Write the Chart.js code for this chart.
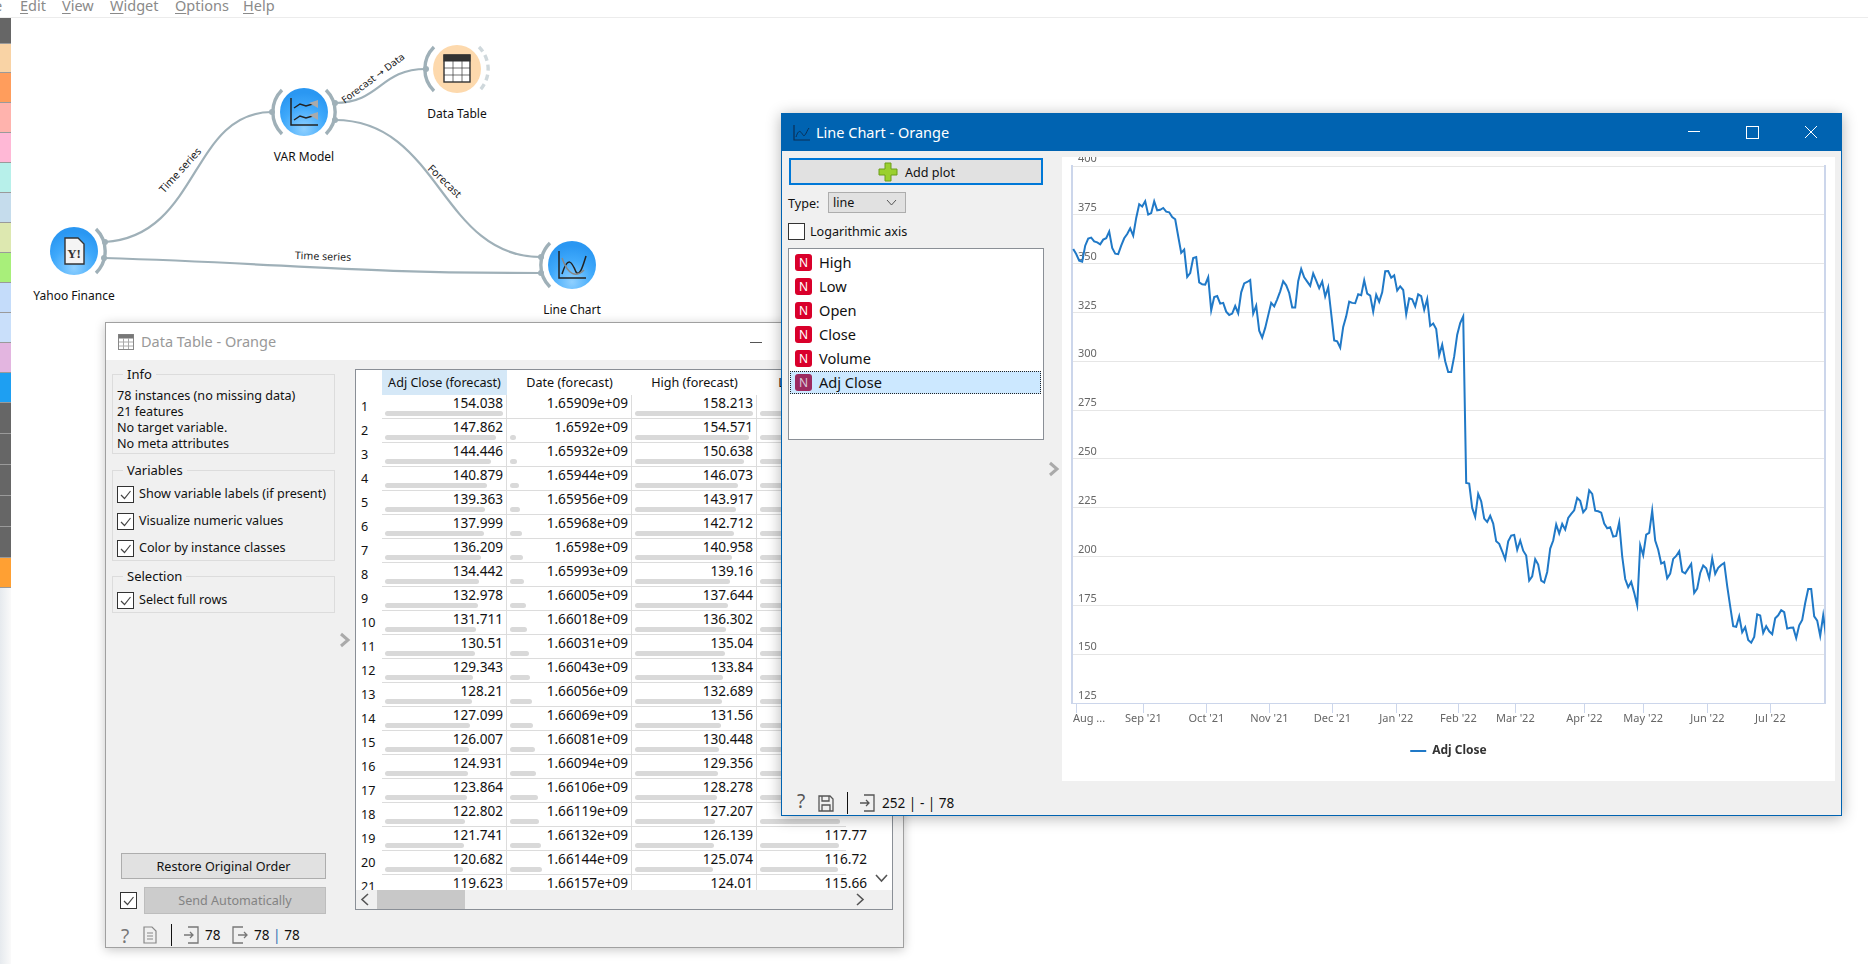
<!DOCTYPE html>
<html>
<head>
<meta charset="utf-8">
<title>Line Chart - Orange</title>
<script src="https://cdn.jsdelivr.net/npm/chart.js@4"></script>
<style>
  html, body { margin: 0; padding: 0; background: #fff; }
  body { width: 1868px; height: 964px; position: relative; overflow: hidden; font-family: "Noto Sans", sans-serif; color: #111; }
  .a { position: absolute; white-space: nowrap; }
  .win { position: absolute; background: #f0f0f0; box-sizing: border-box; }
  .group { position: absolute; border: 1px solid #dcdcdc; box-sizing: border-box; }
  .group > span { position: absolute; left: 10px; top: -10px; background: #f0f0f0; padding: 0 4px; font-size: 13px; }
  .info { font-size: 12.6px; line-height: 16px; }
  .check { position: absolute; width: 15px; height: 15px; border: 1px solid #333; background: #fff; box-sizing: content-box; }
  .check svg { position: absolute; left: 1px; top: 1px; }
  .menu { font-size: 14.5px; color: #8a8a8a; top: -5px; }
  .menu u { text-underline-offset: 2px; }
  .node { font-size: 12px; transform: translateX(-50%); }
  .edge { font-size: 10.6px; transform: translate(-50%, -50%); color: #222; }
  .cell { position: absolute; font-size: 13.6px; text-align: right; box-sizing: border-box; padding-right: 4px; height: 24px; line-height: 18px; }
  .bar { position: absolute; height: 5px; background: #d9d9d9; border-radius: 3px; }
  .head { position: absolute; top: 0; height: 26px; line-height: 26px; font-size: 12.6px; text-align: center; }
  .badge { position: absolute; left: 795px; width: 17px; height: 17px; border-radius: 3px; background: #d9002b; color: #fff; font-size: 12px; line-height: 17px; text-align: center; }
  .item { position: absolute; left: 819px; font-size: 14.6px; line-height: 20px; }
  .btn { position: absolute; box-sizing: border-box; background: #e1e1e1; border: 1px solid #adadad; text-align: center; font-size: 12.6px; }
</style>
</head>
<body>

<!-- menu and widget strip -->
<div class="a menu" style="left:-6px">e</div>
<div class="a menu" style="left:20px"><u>E</u>dit</div>
<div class="a menu" style="left:62px"><u>V</u>iew</div>
<div class="a menu" style="left:110px"><u>W</u>idget</div>
<div class="a menu" style="left:175px"><u>O</u>ptions</div>
<div class="a menu" style="left:243px"><u>H</u>elp</div>
<div class="a" style="left:0;top:17px;width:1868px;height:1px;background:#ececec"></div>
<div id="strip"></div>

<!-- workflow -->
<svg class="a" style="left:0;top:0" width="660" height="330" id="flow">
  <defs>
    <radialGradient id="blue" cx="50%" cy="85%" r="75%"><stop offset="0" stop-color="#8fd0ff"/><stop offset="0.6" stop-color="#3fa9fb"/><stop offset="1" stop-color="#2a97f2"/></radialGradient>
  </defs>
  <g fill="none" stroke="#9fb0b8" stroke-width="2.2">
    <path d="M105 242 C200 236 190 112 272 112"/>
    <path d="M335 103 C380 103 380 69 426 69"/>
    <path d="M335 120 C440 120 440 257 541 257"/>
    <path d="M104 258 C300 264 340 273 541 273"/>
  </g>
  <g fill="#9fb0b8">
    <circle cx="105" cy="242" r="3"/><circle cx="104" cy="258" r="3"/>
    <circle cx="272" cy="112" r="3"/><circle cx="335" cy="103" r="3"/><circle cx="335" cy="120" r="3"/>
    <circle cx="426" cy="69" r="3"/><circle cx="541" cy="257" r="3"/><circle cx="541" cy="273" r="3"/>
  </g>
  <g fill="none" stroke="#9fb0b8" stroke-width="3.4">
    <path d="M96 229 A31 31 0 0 1 96 273"/>
    <path d="M282 90 A31 31 0 0 0 282 134"/>
    <path d="M326 90 A31 31 0 0 1 326 134"/>
    <path d="M434 47 A31 31 0 0 0 434 91"/>
    <path d="M550 243 A31 31 0 0 0 550 287"/>
    <path d="M479 47 A31 31 0 0 1 479 91" stroke="#cfd8dc" stroke-dasharray="6 4"/>
  </g>
  <circle cx="74" cy="251" r="24" fill="url(#blue)"/>
  <circle cx="304" cy="112" r="24" fill="url(#blue)"/>
  <circle cx="457" cy="69" r="24" fill="#fdd9ad"/>
  <circle cx="572" cy="265" r="24" fill="url(#blue)"/>
  <!-- node icons -->
  <path d="M65 238 H78 L84 244 V264 H65 Z" fill="#f4f4f4" stroke="#333" stroke-width="1.4"/>
  <text x="74" y="258" font-family="Liberation Serif" font-weight="bold" font-size="13" text-anchor="middle" fill="#333">Y!</text>
  <g fill="none" stroke="#222" stroke-width="1.5">
    <path d="M291 98 V125 H318"/><path d="M294 108 L300 104 L306 106 L316 103"/><path d="M294 120 L300 116 L306 118 L316 115"/>
    <path d="M559 251 V278 H586"/><path d="M562 274 C568 255 572 262 576 272 C580 278 584 262 586 256"/><path d="M562 258 C568 275 576 278 584 270" stroke="#888"/>
  </g>
  <path d="M309 103 L318 100 V108 Z M309 115 L318 112 V120 Z" fill="#aaa"/>
  <g stroke="#333" fill="none">
    <rect x="444" y="55" width="26" height="27" fill="#fff" stroke-width="1.4"/>
    <rect x="444" y="55" width="26" height="6" fill="#333"/>
    <path d="M453 61 V82 M462 61 V82 M444 68 H470 M444 75 H470" stroke-width="0.7"/>
  </g>
</svg>
<div class="a node" style="left:74px;top:287px">Yahoo Finance</div>
<div class="a node" style="left:304px;top:148px">VAR Model</div>
<div class="a node" style="left:457px;top:105px">Data Table</div>
<div class="a node" style="left:572px;top:301px">Line Chart</div>
<div class="a edge" style="left:180px;top:170px;transform:translate(-50%,-50%) rotate(-48deg)">Time series</div>
<div class="a edge" style="left:373px;top:78px;transform:translate(-50%,-50%) rotate(-37deg);font-family:'DejaVu Sans';font-size:9.4px">Forecast → Data</div>
<div class="a edge" style="left:445px;top:181px;transform:translate(-50%,-50%) rotate(44deg)">Forecast</div>
<div class="a edge" style="left:323px;top:256px;transform:translate(-50%,-50%) rotate(2deg)">Time series</div>

<!-- Data Table window -->
<div class="win" style="left:105px;top:322px;width:799px;height:626px;border:1px solid #a0a0a0;box-shadow:0 2px 10px rgba(0,0,0,.22)"></div>
<div class="a" style="left:106px;top:323px;width:797px;height:37px;background:#fff"></div>
<svg class="a" style="left:118px;top:334px" width="16" height="16"><rect x=".5" y=".5" width="15" height="15" fill="#fff" stroke="#888"/><rect x=".5" y=".5" width="15" height="4" fill="#777"/><path d="M5.5 4V15M10.5 4V15M1 8H15M1 12H15" stroke="#aaa"/></svg>
<div class="a" style="left:141px;top:331px;font-size:14.5px;color:#999">Data Table - Orange</div>
<div class="a" style="left:750px;top:342px;width:12px;height:1px;background:#555"></div>

<div class="group" style="left:112px;top:374px;width:223px;height:80px"><span>Info</span></div>
<div class="a info" style="left:117px;top:388px">78 instances (no missing data)<br>21 features<br>No target variable.<br>No meta attributes</div>
<div class="group" style="left:112px;top:470px;width:223px;height:91px"><span>Variables</span></div>
<div class="group" style="left:112px;top:576px;width:223px;height:37px"><span>Selection</span></div>
<div id="checks"></div>
<div class="a info" style="left:139px;top:486px">Show variable labels (if present)</div>
<div class="a info" style="left:139px;top:513px">Visualize numeric values</div>
<div class="a info" style="left:139px;top:540px">Color by instance classes</div>
<div class="a info" style="left:139px;top:592px">Select full rows</div>
<svg class="a" style="left:338px;top:632px" width="14" height="16"><path d="M3 2 L10 8 L3 14" fill="none" stroke="#aaa" stroke-width="3"/></svg>

<div class="btn" style="left:121px;top:853px;width:205px;height:26px;line-height:25px">Restore Original Order</div>
<div class="btn" style="left:144px;top:887px;width:182px;height:27px;line-height:26px;background:#cccccc;color:#838383;border-color:#bdbdbd">Send Automatically</div>
<div class="a" style="left:125px;top:923px;font-size:19px;color:#777;transform:translateX(-50%)">?</div>
<svg class="a" style="left:143px;top:926px" width="14" height="18"><path d="M1 1H9L13 5V17H1Z M4 7H10M4 10H10M4 13H10" fill="none" stroke="#888" stroke-width="1.2"/></svg>
<div class="a" style="left:171px;top:924px;width:1px;height:22px;background:#111"></div>
<svg class="a" style="left:183px;top:926px" width="16" height="18"><path d="M1 9H10M7 6L10 9L7 12M5 1H15V17H5" fill="none" stroke="#777" stroke-width="1.3"/></svg>
<div class="a" style="left:205px;top:925px;font-size:13.6px">78</div>
<svg class="a" style="left:232px;top:926px" width="16" height="18"><path d="M6 9H15M12 6L15 9L12 12M11 1H1V17H11" fill="none" stroke="#777" stroke-width="1.3"/></svg>
<div class="a" style="left:254px;top:925px;font-size:13.6px">78 <span style="color:#2a6fb0">|</span> 78</div>

<!-- table -->
<div class="a" style="left:355px;top:369px;width:538px;height:541px;background:#fff;border:1px solid #8a8f96;box-sizing:border-box"></div>
<div id="table" class="a" style="left:356px;top:370px;width:515px;height:520px;overflow:hidden"></div>
<div class="a" style="left:356px;top:890px;width:536px;height:19px;background:#f0f0f0"></div>
<div class="a" style="left:377px;top:890px;width:88px;height:19px;background:#c8c8c8"></div>
<svg class="a" style="left:360px;top:893px" width="10" height="13"><path d="M8 1L2 6.5L8 12" fill="none" stroke="#555" stroke-width="1.6"/></svg>
<svg class="a" style="left:855px;top:893px" width="10" height="13"><path d="M2 1L8 6.5L2 12" fill="none" stroke="#555" stroke-width="1.6"/></svg>
<svg class="a" style="left:875px;top:873px" width="13" height="10"><path d="M1 2L6.5 8L12 2" fill="none" stroke="#555" stroke-width="1.6"/></svg>

<!-- Line Chart window -->
<div class="win" style="left:781px;top:113px;width:1061px;height:703px;border:1px solid #0063b1;box-shadow:0 2px 14px rgba(0,0,0,.3)"></div>
<div class="a" style="left:781px;top:113px;width:1061px;height:38px;background:#0063b1"></div>
<svg class="a" style="left:793px;top:124px" width="18" height="18"><path d="M1 1V16H17" fill="none" stroke="#0b2f55" stroke-width="1.2"/><path d="M3 13C6 4 8 8 10 11C12 14 14 6 16 4" fill="none" stroke="#0b2f55"/></svg>
<div class="a" style="left:816px;top:122px;font-size:14.5px;color:#fff">Line Chart - Orange</div>
<div class="a" style="left:1688px;top:131px;width:12px;height:1px;background:#fff"></div>
<div class="a" style="left:1746px;top:126px;width:11px;height:11px;border:1px solid #fff"></div>
<svg class="a" style="left:1804px;top:125px" width="14" height="14"><path d="M1 1L13 13M13 1L1 13" stroke="#fff" stroke-width="1"/></svg>

<div class="btn" style="left:789px;top:158px;width:254px;height:27px;line-height:25px;border:2px solid #0078d7">
  <svg style="position:absolute;left:87px;top:2px" width="20" height="20"><path d="M7 1H13V7H19V13H13V19H7V13H1V7H7Z" fill="#9ad02f" stroke="#6d9e1b"/></svg>
  <span style="margin-left:28px">Add plot</span>
</div>
<div class="a info" style="left:788px;top:196px">Type:</div>
<div class="btn" style="left:828px;top:192px;width:78px;height:21px;line-height:20px;text-align:left;padding-left:4px">line
  <svg style="position:absolute;right:8px;top:6px" width="11" height="7"><path d="M1 1L5.5 6L10 1" fill="none" stroke="#555"/></svg>
</div>
<div class="check" style="left:788px;top:223px"></div>
<div class="a info" style="left:810px;top:224px">Logarithmic axis</div>
<div class="a" style="left:788px;top:248px;width:256px;height:192px;box-sizing:border-box;background:#fff;border:1px solid #8a8f96"></div>
<div class="a" style="left:790px;top:371px;width:251px;height:23px;box-sizing:border-box;background:#cce8ff;border:1px dotted #222"></div>
<div id="vars"></div>
<svg class="a" style="left:1047px;top:461px" width="14" height="16"><path d="M3 2L10 8L3 14" fill="none" stroke="#aaa" stroke-width="3"/></svg>

<div class="a" style="left:1062px;top:157px;width:773px;height:624px;background:#fff"><canvas id="lineChart" width="773" height="624"></canvas></div>

<div class="a" style="left:801px;top:788px;font-size:19px;color:#555;transform:translateX(-50%)">?</div>
<svg class="a" style="left:818px;top:795px" width="16" height="17"><path d="M1 1H12L15 4V16H1Z M4 1V6H11V1M4 16V10H12V16" fill="none" stroke="#555" stroke-width="1.3"/></svg>
<div class="a" style="left:847px;top:792px;width:1px;height:22px;background:#111"></div>
<svg class="a" style="left:859px;top:794px" width="16" height="18"><path d="M1 9H10M7 6L10 9L7 12M5 1H15V17H5" fill="none" stroke="#555" stroke-width="1.3"/></svg>
<div class="a" style="left:882px;top:794px;font-size:13.6px;line-height:18px">252 | - | 78</div>

<script>
// Precio de cierre ajustado (252 sesiones)
const adjClose = [
  357.5,354.9,351.5,351.0,359.2,362.8,363.3,361.4,360.9,359.9,362.3,363.0,366.4,358.0,355.1,354.9,359.2,363.0,365.2,368.1,
  364.3,373.4,380.4,379.2,381.9,375.1,375.9,381.9,377.3,377.6,378.5,376.6,376.3,373.9,372.7,364.0,355.5,357.2,343.2,345.2,
  352.9,353.4,340.4,339.4,339.2,343.0,326.1,332.9,333.4,329.5,329.9,325.4,323.7,324.4,328.3,324.6,335.3,339.9,340.6,341.6,
  324.4,328.5,315.7,312.1,317.1,323.5,329.9,328.1,331.7,335.8,341.0,338.9,335.0,327.5,327.5,341.0,347.3,343.0,340.8,338.6,
  345.0,341.3,337.4,340.8,333.1,337.9,324.4,310.7,310.2,307.0,317.6,323.0,330.5,329.9,329.7,334.3,333.8,341.5,334.6,333.6,
  325.4,334.1,330.4,335.3,346.1,346.2,342.8,344.0,336.2,338.4,336.5,324.1,332.2,331.7,328.1,334.3,333.4,326.3,331.9,318.1,
  319.3,316.5,303.1,308.5,300.0,294.5,294.5,302.5,313.6,319.6,323.0,
  237.7,237.4,224.9,220.3,232.1,228.3,219.4,217.7,220.9,216.9,207.8,206.5,202.7,198.6,207.8,210.7,211.1,203.5,208.2,203.0,
  200.5,187.7,189.9,198.6,195.9,187.7,186.7,192.1,204.1,208.2,216.4,211.8,216.7,213.8,219.8,221.8,223.7,230.0,228.5,222.7,
  224.6,233.9,232.1,223.5,223.2,222.5,216.9,214.5,215.0,210.2,210.6,217.4,200.1,188.5,184.3,187.0,181.4,175.0,205.8,200.7,
  211.2,212.1,223.5,208.2,203.5,196.4,197.2,188.9,191.3,198.8,200.3,202.7,192.3,191.4,193.8,196.2,181.4,183.6,191.6,195.4,
  194.0,188.9,199.1,191.1,194.2,195.7,196.7,184.8,174.5,164.3,164.0,169.4,161.2,163.8,157.3,155.9,158.8,170.4,169.8,160.9,
  164.3,161.7,160.2,168.4,169.9,172.5,171.5,163.1,163.5,163.6,158.3,164.8,167.5,176.2,183.4,183.4,169.4,167.2,159.4,169.9,158.7
];
const monthIndex = [1, 23.4, 44.4, 65.4, 86.4, 107.7, 128.4, 147.4, 170.4, 190, 211.4, 232.4];
const monthLabels = ['\u00a0\u00a0\u00a0\u00a0\u00a0\u00a0\u00a0\u00a0\u00a0Aug ...', "Sep '21", "Oct '21", "Nov '21", "Dec '21", "Jan '22", "Feb '22", "Mar '22", "Apr '22", "May '22", "Jun '22", "Jul '22"];
const yTicks = [125, 150, 175, 200, 225, 250, 275, 300, 325, 350, 375, 400];

// Tabla de pronostico
const adjForecast = [154.038,147.862,144.446,140.879,139.363,137.999,136.209,134.442,132.978,131.711,130.51,129.343,128.21,127.099,126.007,124.931,123.864,122.802,121.741,120.682,119.623];
const dateForecast = ['1.65909e+09','1.6592e+09','1.65932e+09','1.65944e+09','1.65956e+09','1.65968e+09','1.6598e+09','1.65993e+09','1.66005e+09','1.66018e+09','1.66031e+09','1.66043e+09','1.66056e+09','1.66069e+09','1.66081e+09','1.66094e+09','1.66106e+09','1.66119e+09','1.66132e+09','1.66144e+09','1.66157e+09'];
const highForecast = [158.213,154.571,150.638,146.073,143.917,142.712,140.958,139.16,137.644,136.302,135.04,133.84,132.689,131.56,130.448,129.356,128.278,127.207,126.139,125.074,124.01];
const lowForecast = ['','','','','','','','','','','','','','','','','','118.83','117.77','116.72','115.66'];
const tableHeads = ['Adj Close (forecast)', 'Date (forecast)', 'High (forecast)', 'Low (forecast)'];
const varNames = ['High', 'Low', 'Open', 'Close', 'Volume', 'Adj Close'];

// Franja de widgets a la izquierda
const stripColors = ['#666666','#f9d3a5','#ff9d5c','#ffb3ad','#ffb8d6','#b7f0ea','#c5dcec','#dde8b0','#a8ef7a','#c4dcfa','#c9dffa','#e3b5e0','#1e9ff2','#666666','#666666','#666666','#666666','#666666','#ffa033'];
const stripTops = [18,44,73,103,133,163,193,223,253,283,313,343,373,403,434,465,496,527,558];

function el(parent, cls, style, text) {
    const d = document.createElement('div');
    d.className = cls;
    d.style.cssText = style;
    if (text !== undefined) d.textContent = text;
    parent.appendChild(d);
    return d;
}

// Dibujar la franja
const strip = document.getElementById('strip');
el(strip, 'a', 'left:0;top:18px;width:11px;height:570px;background:#9a9a9a');
stripColors.forEach((c, i) => {
    const bottom = i + 1 < stripTops.length ? stripTops[i + 1] : 588;
    el(strip, 'a', `left:0;top:${stripTops[i]}px;width:11px;height:${bottom - stripTops[i] - 1}px;background:${c}`);
});
el(strip, 'a', 'left:0;top:588px;width:11px;height:376px;background:linear-gradient(90deg,#e6eaee,#fafafa)');

// Casillas marcadas
const checks = document.getElementById('checks');
[[117, 486], [117, 513], [117, 540], [117, 592], [120, 892]].forEach(([x, y]) => {
    const c = el(checks, 'check', `left:${x}px;top:${y}px`);
    c.innerHTML = '<svg width="13" height="13"><path d="M2 7L5.5 10.5L11.5 3" fill="none" stroke="#444" stroke-width="1.2"/></svg>';
});

// Filas de la tabla
const table = document.getElementById('table');
const colLeft = [26, 151, 276, 401];
tableHeads.forEach((h, c) => {
    const bg = c === 0 ? 'background:#d5e8f7;' : '';
    el(table, 'head', `left:${colLeft[c]}px;width:125px;${bg}`, h);
});
el(table, 'a', 'left:26px;top:25px;width:489px;height:1px;background:#fff');
for (let i = 0; i < 21; i++) {
    const top = 25 + 24 * i;
    el(table, 'a', `left:5px;top:${top + 3}px;font-size:12.6px;line-height:18px`, String(i + 1));
    const dateVal = parseFloat(dateForecast[i]);
    const rowVals = [String(adjForecast[i]), dateForecast[i], String(highForecast[i]), lowForecast[i]];
    const widths = [
        1.2076 * (adjForecast[i] - 56.3),
        i === 0 ? 0 : 6 + (dateVal - 1.6592e9) * 26 / 2.24e6,
        1.216 * (highForecast[i] - 61.2),
        1.216 * (highForecast[i] - 61.2)
    ];
    rowVals.forEach((v, c) => {
        el(table, 'a', `left:${colLeft[c]}px;top:${top + 23}px;width:${c === 3 ? 89 : 124}px;height:1px;background:#dcdcdc`);
        if (c < 3) el(table, 'a', `left:${colLeft[c] + 124}px;top:${top}px;width:1px;height:24px;background:#dcdcdc`);
        el(table, 'cell', `left:${colLeft[c]}px;top:${top - 1}px;width:${c === 3 ? 114 : 125}px`, v);
        if (widths[c] > 0) el(table, 'bar', `left:${colLeft[c] + 3}px;top:${top + 16}px;width:${widths[c]}px`);
    });
}

// Lista de variables
const vars = document.getElementById('vars');
varNames.forEach((name, i) => {
    const top = 254 + 24 * i;
    const last = i === varNames.length - 1;
    el(vars, 'badge', `top:${top}px;${last ? 'background:#9c2a5f;color:#d8c8d8' : ''}`, 'N');
    el(vars, 'item', `top:${top - 2}px`, name);
});

// Grafico de linea
const axisColor = '#ccd6eb';
new Chart(document.getElementById('lineChart').getContext('2d'), {
    type: 'line',
    data: {
        datasets: [{
            label: 'Adj Close',
            data: adjClose.map((v, i) => ({ x: i, y: v })),
            borderColor: '#2079c7',
            backgroundColor: '#2079c7',
            borderWidth: 2,
            pointRadius: 0,
            tension: 0
        }]
    },
    options: {
        responsive: false,
        animation: false,
        layout: { padding: { left: 10, right: 10, top: 9, bottom: 14 } },
        plugins: {
            tooltip: { enabled: false },
            legend: {
                position: 'bottom',
                labels: {
                    usePointStyle: true,
                    pointStyle: 'line',
                    pointStyleWidth: 16,
                    color: '#333',
                    font: { family: '"Noto Sans"', size: 12, weight: 'bold' }
                }
            }
        },
        scales: {
            x: {
                type: 'linear',
                min: -0.4,
                max: 250.6,
                afterBuildTicks: scale => { scale.ticks = monthIndex.map(v => ({ value: v })); },
                afterFit: scale => { scale.height = 32; scale.paddingLeft = 0; scale.paddingRight = 0; },
                border: { color: axisColor },
                grid: { drawOnChartArea: false, drawTicks: true, tickLength: 10, tickColor: axisColor },
                ticks: {
                    autoSkip: false,
                    maxRotation: 0,
                    padding: -1,
                    color: '#666',
                    font: { family: '"Noto Sans"', size: 11 },
                    callback: v => monthLabels[monthIndex.indexOf(v)]
                }
            },
            y: {
                min: 125,
                max: 400,
                afterBuildTicks: scale => { scale.ticks = yTicks.map(v => ({ value: v })); },
                afterFit: scale => { scale.width = 0; scale.paddingTop = 0; scale.paddingBottom = 0; },
                border: { color: axisColor, width: 2 },
                grid: { color: '#e6e6e6', drawTicks: false },
                ticks: {
                    mirror: true,
                    padding: 6,
                    labelOffset: -7,
                    color: '#666',
                    font: { family: '"Noto Sans"', size: 11 }
                }
            },
            yRight: {
                position: 'right',
                min: 125,
                max: 400,
                afterFit: scale => { scale.width = 0; scale.paddingTop = 0; scale.paddingBottom = 0; },
                border: { color: axisColor, width: 2 },
                grid: { drawOnChartArea: false, drawTicks: false },
                ticks: { display: false }
            }
        }
    }
});
console.log('puntos', adjClose.length);
</script>
</body>
</html>
